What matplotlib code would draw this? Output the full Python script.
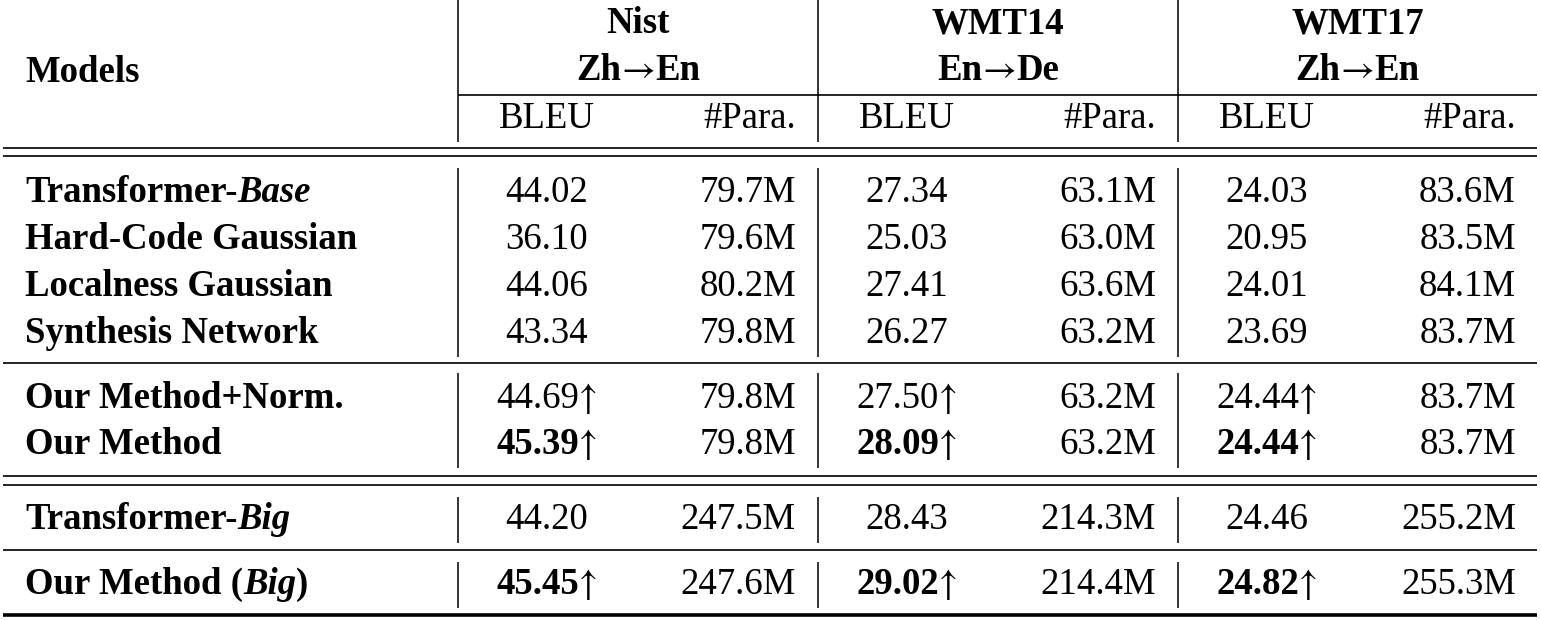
import matplotlib
matplotlib.use("Agg")
import matplotlib.pyplot as plt

plt.rcParams['font.family'] = ['Liberation Serif', 'DejaVu Serif']
FS = 26.5
ARROW_FONT = ['STIXGeneral', 'DejaVu Serif']

# table content
groups = ["Nist", "WMT14", "WMT17"]
directions = [("Zh", "En"), ("En", "De"), ("Zh", "En")]
sub_headers = ["BLEU", "#Para."]

model_prefix = ["Transformer-", "Hard-Code Gaussian", "Localness Gaussian", "Synthesis Network",
                "Our Method+Norm.", "Our Method", "Transformer-", "Our Method ("]
model_italic = ["Base", "", "", "", "", "", "Big", "Big"]
model_suffix = ["", "", "", "", "", "", "", ")"]

nist_bleu = ["44.02", "36.10", "44.06", "43.34", "44.69", "45.39", "44.20", "45.45"]
nist_para = ["79.7M", "79.6M", "80.2M", "79.8M", "79.8M", "79.8M", "247.5M", "247.6M"]
wmt14_bleu = ["27.34", "25.03", "27.41", "26.27", "27.50", "28.09", "28.43", "29.02"]
wmt14_para = ["63.1M", "63.0M", "63.6M", "63.2M", "63.2M", "63.2M", "214.3M", "214.4M"]
wmt17_bleu = ["24.03", "20.95", "24.01", "23.69", "24.44", "24.44", "24.46", "24.82"]
wmt17_para = ["83.6M", "83.5M", "84.1M", "83.7M", "83.7M", "83.7M", "255.2M", "255.3M"]

bold_rows = [5, 7]
arrow_rows = [4, 5, 7]

W, H = 1541, 620
fig = plt.figure(figsize=(W / 100, H / 100), dpi=100)
ax = fig.add_axes([0, 0, 1, 1])
ax.set_xlim(0, W)
ax.set_ylim(H, 0)
ax.axis('off')
renderer = fig.canvas.get_renderer()


def draw_runs(x, y, runs, ha='left'):
    # runs: list of (text, weight, style[, family]); drawn one after another on a baseline
    texts = []
    widths = []
    for run in runs:
        s, weight, style = run[:3]
        kw = {}
        if len(run) > 3:
            kw['family'] = run[3]
        t = ax.text(0, y, s, fontsize=FS, fontweight=weight, fontstyle=style,
                    ha='left', va='baseline', **kw)
        bb = t.get_window_extent(renderer=renderer)
        texts.append(t)
        widths.append(bb.width)
    total = sum(widths)
    if ha == 'center':
        x0 = x - total / 2
    elif ha == 'right':
        x0 = x - total
    else:
        x0 = x
    for t, w in zip(texts, widths):
        t.set_x(x0)
        x0 += w


def hline(y, x0=3, x1=1537, lw=1.2):
    ax.plot([x0, x1], [y, y], color='black', lw=lw, solid_capstyle='butt')


def vline(x, y0, y1):
    ax.plot([x, x], [y0, y1], color='black', lw=1.1, solid_capstyle='butt')


sep_x = [458, 818, 1178]
bleu_x = [547, 907, 1267]
para_x = [796, 1156, 1516]
left_x = 25

# header
draw_runs(left_x, 82, [("Models", 'bold', 'normal')])
for i, g in enumerate(groups):
    cx = (sep_x[i] + (sep_x[i + 1] if i < 2 else 1537)) / 2
    draw_runs(cx, 33, [(g, 'bold', 'normal')], ha='center')
    a, b = directions[i]
    draw_runs(cx, 80, [(a, 'bold', 'normal'), ("\u2192", 'normal', 'normal', ARROW_FONT),
                       (b, 'bold', 'normal')], ha='center')
    draw_runs(bleu_x[i], 128, [(sub_headers[0], 'normal', 'normal')], ha='center')
    draw_runs(para_x[i], 128, [(sub_headers[1], 'normal', 'normal')], ha='right')

# body
row_y = [202, 249, 296, 343, 408, 454, 529, 594]
bleu_cols = [nist_bleu, wmt14_bleu, wmt17_bleu]
para_cols = [nist_para, wmt14_para, wmt17_para]
for r, y in enumerate(row_y):
    runs = [(model_prefix[r], 'bold', 'normal')]
    if model_italic[r]:
        runs.append((model_italic[r], 'bold', 'italic'))
    if model_suffix[r]:
        runs.append((model_suffix[r], 'bold', 'normal'))
    draw_runs(left_x, y, runs)
    for c in range(3):
        w = 'bold' if r in bold_rows else 'normal'
        cell = [(bleu_cols[c][r], w, 'normal')]
        if r in arrow_rows:
            cell.append(("\u2191", 'normal', 'normal', ARROW_FONT))
        draw_runs(bleu_x[c], y, cell, ha='center')
        draw_runs(para_x[c], y, [(para_cols[c][r], 'normal', 'normal')], ha='right')

# rules
hline(95, 458, 1537)
hline(148)
hline(156)
hline(363)
hline(476)
hline(485)
hline(550)
hline(615, lw=2.6)

for x in sep_x:
    vline(x, 0, 142)
    vline(x, 168, 357)
    vline(x, 373, 468)
    vline(x, 497, 543)
    vline(x, 562, 608)

fig.savefig("out.png", dpi=100)
